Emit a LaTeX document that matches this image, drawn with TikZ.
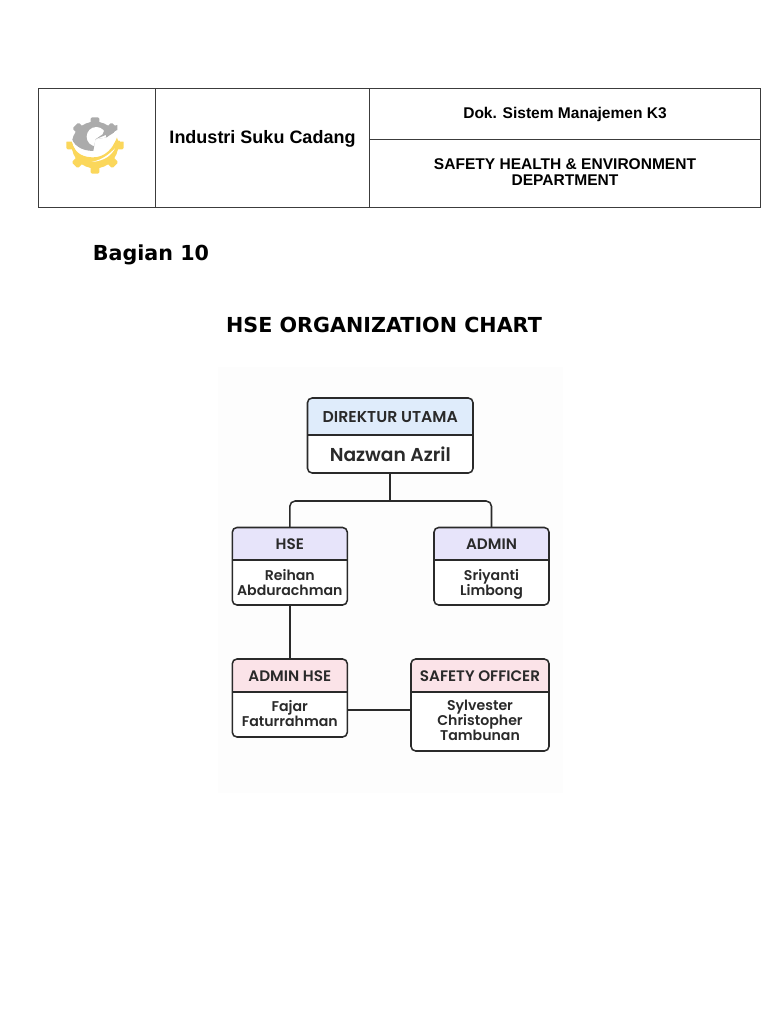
\documentclass[tikz,border=0pt]{standalone}
\usepackage{fontspec}
\setmainfont{Liberation Sans}
\newfontfamily\titlefont{DejaVu Sans}
\newfontfamily\chartfont{Poppins SemiBold}
\usetikzlibrary{positioning}
\definecolor{cellline}{HTML}{3C3C3C}
\definecolor{chartline}{HTML}{2A2A2A}
\definecolor{dirutfill}{HTML}{DFECFB}
\definecolor{stafffill}{HTML}{E7E4FA}
\definecolor{adminfill}{HTML}{FBE3E8}
\definecolor{gearyellow}{HTML}{FBD75B}
\definecolor{geargray}{HTML}{ABABAB}
\tikzset{
	cell/.style n args={2}{draw=cellline, line width=0.7pt, rectangle, outer sep=0pt, inner sep=0pt, minimum width=#1*0.75pt, minimum height=#2*0.75pt},
	celltext/.style={inner sep=0pt, align=center, font=\bfseries\fontsize{11.65}{12}\selectfont},
	orgbox/.style n args={4}{draw=chartline, line width=1.15pt, rectangle, rounded corners=3.5pt, fill=white, outer sep=0pt, inner sep=0pt, minimum width=#1*0.75pt, minimum height=#2*0.75pt,
		path picture={
			\fill[#4] (path picture bounding box.north west) rectangle ([yshift=-#3*0.75pt]path picture bounding box.north east);
			\draw[chartline, line width=1.15pt] ([yshift=-#3*0.75pt]path picture bounding box.north west) -- ([yshift=-#3*0.75pt]path picture bounding box.north east);
		}},
	headtext/.style={text=chartline, inner sep=0pt, font=\chartfont\fontsize{11.4}{12}\selectfont},
	nametext/.style={text=chartline, inner sep=0pt, align=center, font=\chartfont\fontsize{10.6}{11.25}\selectfont},
	link/.style={draw=chartline, line width=1.15pt},
}
\begin{document}
\begin{tikzpicture}[x=0.75pt, y=-0.75pt]
	\useasboundingbox (0,0) rectangle (768,1024);
	\fill[white] (0,0) rectangle (768,1024);
	\fill[black!0.8] (218,367) rectangle (563,793);

	\node[cell={117.5}{119}] (logocell) at (96.75,147.5) {};
	\node[cell={214}{119}, right=0pt of logocell] (companycell) {};
	\node[cell={391}{51}] (doccell) at (565,113.5) {};
	\node[cell={391}{68}, below=0pt of doccell] (deptcell) {};
	\node[celltext] (doctext) at (565,114) {Dok. Sistem Manajemen K3};
	\node[celltext] (depttext) at (565,172) {SAFETY HEALTH \& ENVIRONMENT\\DEPARTMENT};
	\node[inner sep=0pt, font=\bfseries\fontsize{13.5}{15}\selectfont] (company) at (262.5,139) {Industri Suku Cadang};

	\begin{scope}[shift={(30,80)}, scale=1/3]
		\begin{scope}
			\clip (100,100) -- (290,100) -- (290,135) -- (262,150) -- (230,172) -- (196,178) -- (190,213) .. controls (150,212) and (130,195) .. (122,165) -- (100,165) -- cycle;
			\foreach \ang in {0,45,...,315}
				\fill[geargray, rounded corners=1pt, rotate around={\ang:(195,195)}] (182,112) rectangle (208,140);
			\fill[geargray] (195,195) circle (70);
			\fill[white] (199,170) circle (29);
		\end{scope}
		\fill[geargray] (262,135) -- (262,150) -- (196,178) -- (218,163) -- (225,145) -- cycle;
		\begin{scope}
			\clip (100,185) -- (125,185) .. controls (135,225) and (165,232) .. (190,232) .. controls (225,232) and (250,205) .. (262,170) -- (270,185) -- (290,185) -- (290,290) -- (100,290) -- cycle;
			\foreach \ang in {0,45,...,315}
				\fill[gearyellow, rounded corners=1pt, rotate around={\ang:(195,195)}] (182,109) rectangle (208,140);
			\fill[gearyellow] (195,195) circle (70);
		\end{scope}
		\fill[white] (185,246) .. controls (225,243) and (245,225) .. (255,205) .. controls (238,222) and (220,238) .. (185,246);
	\end{scope}

	\node[inner sep=0pt, font=\titlefont\bfseries\fontsize{15.5}{18}\selectfont] (section) at (151,255) {Bagian 10};
	\node[inner sep=0pt, font=\titlefont\bfseries\fontsize{15.5}{18}\selectfont] (title) at (384,325) {HSE ORGANIZATION CHART};

	\node[orgbox={165.5}{75}{37}{dirutfill}] (dirut) at (390.25,435.5) {};
	\node[orgbox={115}{77.5}{32.5}{stafffill}] (hse) at (289.8,566.25) {};
	\node[orgbox={115}{77.5}{32.5}{stafffill}] (admin) at (491.5,566.25) {};
	\node[orgbox={115}{78}{33}{adminfill}, below=40.5pt of hse] (adminhse) {};
	\node[orgbox={138}{92}{33}{adminfill}] (safety) at (480,705) {};

	\node[headtext, font=\chartfont\fontsize{11.8}{12}\selectfont] (dirutrole) at ([yshift=-14.25pt]dirut.north) {DIREKTUR UTAMA};
	\node[nametext, font=\chartfont\fontsize{14}{16}\selectfont] (dirutname) at ([yshift=-42pt]dirut.north) {Nazwan Azril};
	\node[headtext] (hserole) at ([yshift=-12.75pt]hse.north) {HSE};
	\node[nametext] (hsename) at ([yshift=-41.5pt]hse.north) {Reihan\\Abdurachman};
	\node[headtext] (adminrole) at ([yshift=-12.75pt]admin.north) {ADMIN};
	\node[nametext] (adminname) at ([yshift=-42.6pt]admin.north) {Sriyanti\\Limbong};
	\node[headtext] (adminhserole) at ([yshift=-12.5pt]adminhse.north) {ADMIN HSE};
	\node[nametext] (adminhsename) at ([yshift=-40.9pt]adminhse.north) {Fajar\\Faturrahman};
	\node[headtext] (safetyrole) at ([yshift=-12.5pt]safety.north) {SAFETY OFFICER};
	\node[nametext] (safetyname) at ([yshift=-46pt]safety.north) {Sylvester\\Christopher\\Tambunan};

	\coordinate (branch) at (390.25,501);
	\draw[link] (dirut) -- (branch);
	\draw[link, rounded corners=4pt] (hse.north) -- (hse.north |- branch) -- (admin.north |- branch) -- (admin.north);
	\draw[link] (hse) -- (adminhse);
	\draw[link] ([yshift=-9pt]adminhse.east) -- ([yshift=-3.75pt]safety.west);
\end{tikzpicture}
\end{document}
